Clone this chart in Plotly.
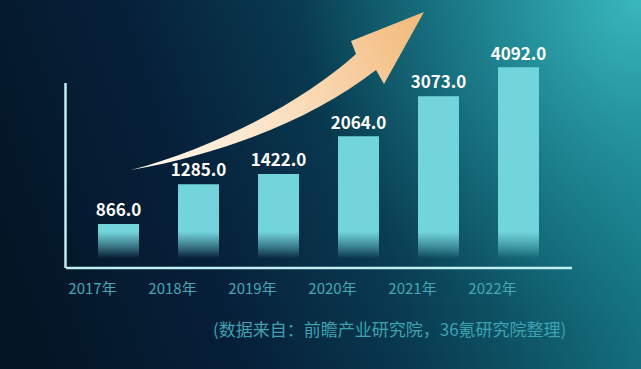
import base64
import plotly.graph_objects as go

# ---------------- data ----------------
years = ["2017年", "2018年", "2019年", "2020年", "2021年", "2022年"]
values = [866.0, 1285.0, 1422.0, 2064.0, 3073.0, 4092.0]
value_labels = [f"{v:.1f}" for v in values]
source_note = "(数据来自：前瞻产业研究院，36氪研究院整理)"

# ---------------- geometry / style ----------------
W, H = 641, 369
FONT = "Noto Sans CJK SC"
BAR_COLOR = "rgb(115,213,220)"
x_pos = list(range(len(years)))
half_w = 0.256
y_range_log = [2.7911, 3.9017]
y_base = 10 ** y_range_log[0]
fade_stop = 10 ** 2.905

bx, by = [], []
for xp, v in zip(x_pos, values):
    bx += [xp - half_w, xp + half_w, xp + half_w, xp - half_w, xp - half_w, None]
    by += [y_base, y_base, v, v, y_base, None]

svg = f'''<svg xmlns="http://www.w3.org/2000/svg" width="{W}" height="{H}" viewBox="0 0 {W} {H}" preserveAspectRatio="none">
<defs>
<linearGradient id="bg" x1="0" y1="0.6" x2="1" y2="0.4">
<stop offset="0" stop-color="#041626"/>
<stop offset="0.3" stop-color="#06203a"/>
<stop offset="0.55" stop-color="#093a50"/>
<stop offset="0.78" stop-color="#105e6e"/>
<stop offset="1" stop-color="#18808c"/>
</linearGradient>
<radialGradient id="hl" cx="641" cy="0" r="340" gradientUnits="userSpaceOnUse">
<stop offset="0" stop-color="#3cbac0" stop-opacity="0.95"/>
<stop offset="0.5" stop-color="#2a9ea8" stop-opacity="0.45"/>
<stop offset="1" stop-color="#1a8590" stop-opacity="0"/>
</radialGradient>
<linearGradient id="ar" x1="133" y1="172" x2="424" y2="12" gradientUnits="userSpaceOnUse">
<stop offset="0" stop-color="#fff8ee"/>
<stop offset="0.45" stop-color="#fbe3c6"/>
<stop offset="1" stop-color="#f2b878"/>
</linearGradient>
</defs>
<rect width="{W}" height="{H}" fill="url(#bg)"/>
<rect width="{W}" height="{H}" fill="url(#hl)"/>
<path d="M131,170 C220,146 305,100 356,54 L351,41 L424,12 L384,84 L376,70 C312,120 222,154 131,170 Z" fill="url(#ar)"/>
</svg>'''
bg_uri = "data:image/svg+xml;base64," + base64.b64encode(svg.encode("utf-8")).decode()

fig = go.Figure()
fig.add_trace(go.Scatter(
    x=bx, y=by, mode="lines", fill="toself", line=dict(width=0),
    fillcolor=BAR_COLOR,
    fillgradient=dict(type="vertical", start=y_base, stop=fade_stop,
                      colorscale=[[0, "rgba(115,213,220,0.02)"],
                                  [0.45, "rgba(115,213,220,0.5)"],
                                  [1, BAR_COLOR]]),
    hoverinfo="skip", showlegend=False))
fig.add_trace(go.Scatter(
    x=x_pos, y=values, mode="markers+text", text=value_labels,
    textposition="top center",
    marker=dict(size=4, color="rgba(0,0,0,0)"),
    textfont=dict(family=FONT, size=17, color="white", weight="bold"),
    hoverinfo="skip", showlegend=False))

line_col = "#bfeef3"
fig.add_shape(type="line", xref="paper", yref="paper",
              x0=66 / W, x1=572 / W, y0=1 - 268 / H, y1=1 - 268 / H,
              line=dict(color=line_col, width=2.5))
fig.add_shape(type="line", xref="paper", yref="paper",
              x0=65.5 / W, x1=65.5 / W, y0=1 - 268 / H, y1=1 - 83 / H,
              line=dict(color=line_col, width=2.5))

fig.add_annotation(text=source_note, xref="paper", yref="paper",
                   x=389 / W, y=1 - 328 / H, xanchor="center", yanchor="middle",
                   showarrow=False, font=dict(family=FONT, size=17, color="#3ca3b1"))

fig.update_layout(
    width=W, height=H, margin=dict(l=0, r=0, t=0, b=0),
    paper_bgcolor="#041626", plot_bgcolor="rgba(0,0,0,0)",
    images=[dict(source=bg_uri, xref="paper", yref="paper", x=0, y=1,
                 sizex=1, sizey=1, sizing="stretch", xanchor="left",
                 yanchor="top", layer="below")],
    xaxis=dict(domain=[0, 1], range=[-118.5 / 80, (W - 118.5) / 80],
               tickvals=x_pos, ticktext=years, showgrid=False, zeroline=False,
               showline=False, ticks="", ticklabelshift=-26, ticklabelstandoff=20,
               tickfont=dict(family=FONT, size=15, color="#45a8b4"), fixedrange=True),
    yaxis=dict(type="log", range=y_range_log, domain=[1 - 258 / H, 1],
               visible=False, fixedrange=True),
    showlegend=False,
)

fig.write_html("out.html")
